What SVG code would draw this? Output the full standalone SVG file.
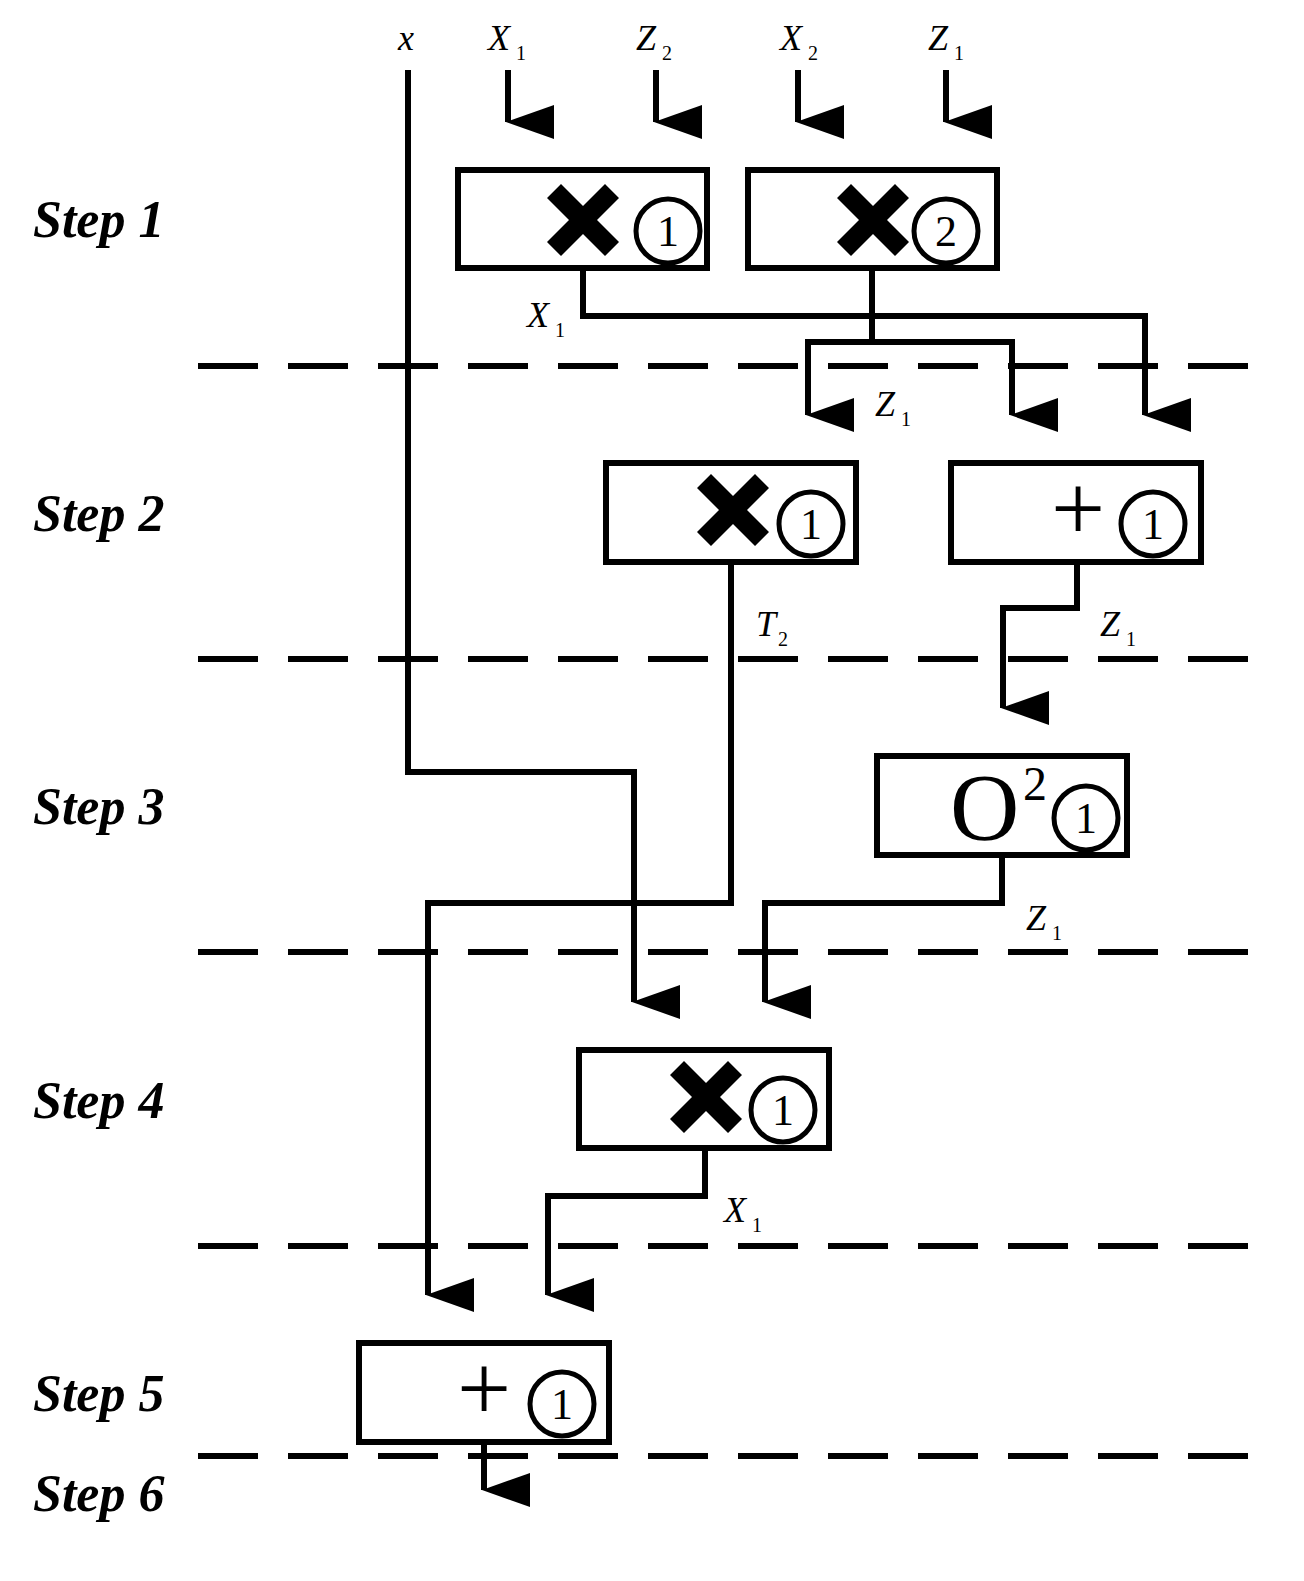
<svg xmlns="http://www.w3.org/2000/svg" width="1304" height="1581" viewBox="0 0 1304 1581">
<style>
.box{fill:#fff;stroke:#000;stroke-width:6}
.w{fill:none;stroke:#000;stroke-width:6}
.d{fill:none;stroke:#000;stroke-width:6;stroke-dasharray:60 30}
.c{fill:#fff;stroke:#000;stroke-width:5}
.st{font-family:"Liberation Serif",serif;font-weight:bold;font-style:italic;font-size:52px}
.lb{font-family:"Liberation Serif",serif;font-style:italic;font-size:36px}
.sb{font-family:"Liberation Serif",serif;font-size:20px}
.n{font-family:"Liberation Serif",serif;font-size:44px;text-anchor:middle}
.op{font-family:"Liberation Serif",serif;font-size:96px;text-anchor:middle}
</style>
<defs>
<marker id="a" markerUnits="userSpaceOnUse" markerWidth="34" markerHeight="48" refX="17" refY="46" orient="auto-start-reverse" viewBox="0 0 34 48"><path d="M0,0 L34,0 L17,48 Z" transform="rotate(0)"/></marker>
<path id="x" d="M-36,-22 L-22,-36 L0,-14 L22,-36 L36,-22 L14,0 L36,22 L22,36 L0,14 L-22,36 L-36,22 L-14,0 Z"/>
</defs>
<rect width="1304" height="1581" fill="#fff"/>
<g id="steps">
<text class="st" x="33" y="237">Step 1</text>
<text class="st" x="33" y="531">Step 2</text>
<text class="st" x="33" y="824">Step 3</text>
<text class="st" x="33" y="1118">Step 4</text>
<text class="st" x="33" y="1411">Step 5</text>
<text class="st" x="33" y="1511">Step 6</text>
</g>
<g id="dashes">
<line class="d" x1="198" y1="366" x2="1250" y2="366"/>
<line class="d" x1="198" y1="659" x2="1250" y2="659"/>
<line class="d" x1="198" y1="952" x2="1250" y2="952"/>
<line class="d" x1="198" y1="1246" x2="1250" y2="1246"/>
<line class="d" x1="198" y1="1456" x2="1250" y2="1456"/>
</g>
<g id="connectors">
<path class="w" d="M408,70 V772 H634 V1002" marker-end="url(#a)"/>
<path class="w" d="M508,70 V122" marker-end="url(#a)"/>
<path class="w" d="M656,70 V122" marker-end="url(#a)"/>
<path class="w" d="M798,70 V122" marker-end="url(#a)"/>
<path class="w" d="M946,70 V122" marker-end="url(#a)"/>
<path class="w" d="M583,268 V316 H1145 V415" marker-end="url(#a)"/>
<path class="w" d="M872,268 V342"/>
<path class="w" d="M808,415 V342 H1012 V415" marker-end="url(#a)"/>
<path class="w" d="M808,342 V415" marker-end="url(#a)"/>
<path class="w" d="M731,562 V903 H428 V1295" marker-end="url(#a)"/>
<path class="w" d="M1077,562 V608 H1003 V708" marker-end="url(#a)"/>
<path class="w" d="M1002,855 V903 H765 V1002" marker-end="url(#a)"/>
<path class="w" d="M705,1148 V1196 H548 V1295" marker-end="url(#a)"/>
<path class="w" d="M484,1442 V1490" marker-end="url(#a)"/>
</g>
<g id="labels">
<text class="lb" x="398" y="50">x</text>
<text class="lb" x="488" y="50">X</text><text class="sb" x="516" y="60">1</text>
<text class="lb" x="636" y="50">Z</text><text class="sb" x="662" y="60">2</text>
<text class="lb" x="780" y="50">X</text><text class="sb" x="808" y="60">2</text>
<text class="lb" x="928" y="50">Z</text><text class="sb" x="954" y="60">1</text>
<text class="lb" x="527" y="327">X</text><text class="sb" x="555" y="337">1</text>
<text class="lb" x="875" y="416">Z</text><text class="sb" x="901" y="426">1</text>
<text class="lb" x="756" y="636">T</text><text class="sb" x="778" y="646">2</text>
<text class="lb" x="1100" y="636">Z</text><text class="sb" x="1126" y="646">1</text>
<text class="lb" x="1026" y="930">Z</text><text class="sb" x="1052" y="940">1</text>
<text class="lb" x="724" y="1222">X</text><text class="sb" x="752" y="1232">1</text>
</g>
<g id="n1a"><rect class="box" x="458" y="170" width="249" height="98"/><use href="#x" x="583" y="220"/><circle class="c" cx="668" cy="231" r="32"/><text class="n" x="668" y="246">1</text></g>
<g id="n1b"><rect class="box" x="748" y="170" width="249" height="98"/><use href="#x" x="873" y="220"/><circle class="c" cx="946" cy="231" r="32"/><text class="n" x="946" y="246">2</text></g>
<g id="n2a"><rect class="box" x="606" y="463" width="250" height="99"/><use href="#x" x="733" y="510"/><circle class="c" cx="811" cy="524" r="32"/><text class="n" x="811" y="539">1</text></g>
<g id="n2b"><rect class="box" x="951" y="463" width="250" height="99"/><text class="op" x="1078" y="540">+</text><circle class="c" cx="1153" cy="524" r="32"/><text class="n" x="1153" y="539">1</text></g>
<g id="n3"><rect class="box" x="877" y="756" width="250" height="99"/><text x="950" y="840" font-family="Liberation Serif,serif" font-size="96">O</text><text x="1023" y="800" font-family="Liberation Serif,serif" font-size="48">2</text><circle class="c" cx="1086" cy="818" r="32"/><text class="n" x="1086" y="833">1</text></g>
<g id="n4"><rect class="box" x="579" y="1050" width="250" height="98"/><use href="#x" x="706" y="1097"/><circle class="c" cx="783" cy="1110" r="32"/><text class="n" x="783" y="1125">1</text></g>
<g id="n5"><rect class="box" x="359" y="1343" width="250" height="99"/><text class="op" x="484" y="1420">+</text><circle class="c" cx="562" cy="1404" r="32"/><text class="n" x="562" y="1419">1</text></g>
</svg>
